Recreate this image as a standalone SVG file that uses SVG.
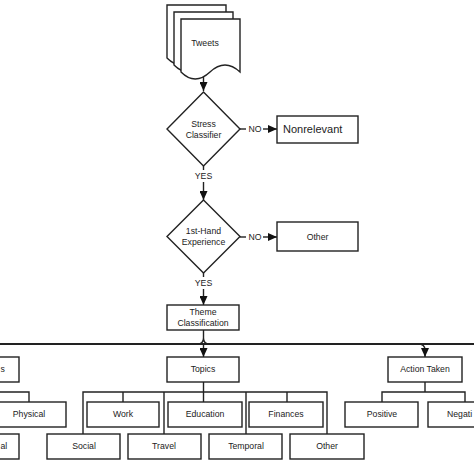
<svg xmlns="http://www.w3.org/2000/svg" width="474" height="474" viewBox="0 0 474 474">
<style>
.b{fill:#fff;stroke:#222;stroke-width:1.4}
.c{fill:none;stroke:#222;stroke-width:1.4}
.t{font-family:"Liberation Sans",Arial,sans-serif;font-size:8.7px;fill:#222;text-anchor:middle}
.big{font-size:11px;text-anchor:start}
</style>
<defs>
<marker id="a" viewBox="0 0 9 8" refX="9" refY="4" markerWidth="9" markerHeight="8" markerUnits="userSpaceOnUse" orient="auto"><path d="M0,0 L9,4 L0,8 z" fill="#111"/></marker>
<path id="doc" d="M0,0 H59 V53 Q44,39 29,53 Q14,67 0,53 Z"/>
</defs>
<rect width="474" height="474" fill="#fff"/>

<g id="connectors">
<path class="c" d="M203.5,77 V91" marker-end="url(#a)"/>
<path class="c" d="M203.5,166 V170"/>
<text class="t" x="203.5" y="179">YES</text>
<path class="c" d="M203.5,182 V200" marker-end="url(#a)"/>
<path class="c" d="M240,129 H246"/>
<text class="t" x="255" y="132">NO</text>
<path class="c" d="M263,129 H277" marker-end="url(#a)"/>
<path class="c" d="M203.5,272 V277"/>
<text class="t" x="203.5" y="286">YES</text>
<path class="c" d="M203.5,289 V305" marker-end="url(#a)"/>
<path class="c" d="M240,237 H246"/>
<text class="t" x="255" y="240">NO</text>
<path class="c" d="M263,237 H277" marker-end="url(#a)"/>
<path class="c" d="M0,344 H474" style="stroke-width:1.8"/>
<path class="c" d="M203.5,330 V338 Q203.5,344 197.5,344 M203.5,338 Q203.5,344 209.5,344"/>
<path class="c" d="M203.5,344 V357" marker-end="url(#a)"/>
<path class="c" d="M418,344 Q425,344 425,350 V357" marker-end="url(#a)"/>
<path class="c" d="M0,392 H29 V402"/>
<path class="c" d="M203.5,382 V402 M83,434 V392 H327 V434 M123,392 V402 M164,392 V434 M246,392 V434 M287,392 V402"/>
<path class="c" d="M425,382 V392 M382,402 V392 H465 V402"/>
</g>

<g id="tweets">
<use href="#doc" class="b" x="167" y="5"/>
<use href="#doc" class="b" x="174" y="12"/>
<use href="#doc" class="b" x="181" y="19"/>
<text class="t" x="205" y="46">Tweets</text>
</g>

<g id="stress">
<path class="b" d="M203.5,92 L240,129 L203.5,166 L167,129 Z"/>
<text class="t" x="203.5" y="127">Stress</text>
<text class="t" x="203.5" y="138">Classifier</text>
</g>

<g id="nonrelevant">
<rect class="b" x="277" y="116" width="81" height="27"/>
<text class="t big" x="283" y="133">Nonrelevant</text>
</g>

<g id="firsthand">
<path class="b" d="M203.5,200 L240,236.5 L203.5,273 L167,236.5 Z"/>
<text class="t" x="203.5" y="234">1st-Hand</text>
<text class="t" x="203.5" y="245">Experience</text>
</g>

<g id="other1">
<rect class="b" x="277" y="222" width="81" height="29"/>
<text class="t" x="317.5" y="240">Other</text>
</g>

<g id="theme">
<rect class="b" x="167" y="305" width="72" height="25"/>
<text class="t" x="203" y="315">Theme</text>
<text class="t" x="203" y="326">Classification</text>
</g>

<g id="leftcat">
<rect class="b" x="-52" y="357" width="71" height="25"/>
<text class="t" x="0.5" y="372" style="text-anchor:start">s</text>
</g>

<g id="topics">
<rect class="b" x="167" y="357" width="72" height="25"/>
<text class="t" x="203" y="372">Topics</text>
</g>

<g id="action">
<rect class="b" x="388" y="357" width="74" height="25"/>
<text class="t" x="425" y="372">Action Taken</text>
</g>

<g id="physical">
<rect class="b" x="-8" y="402" width="74" height="25"/>
<text class="t" x="29" y="417">Physical</text>
</g>

<g id="leftbottom">
<rect class="b" x="-54" y="434" width="73" height="25"/>
<text class="t" x="0.5" y="449" style="text-anchor:start">al</text>
</g>

<g id="work">
<rect class="b" x="87" y="402" width="72" height="25"/>
<text class="t" x="123" y="417">Work</text>
</g>

<g id="education">
<rect class="b" x="168" y="402" width="74" height="25"/>
<text class="t" x="205" y="417">Education</text>
</g>

<g id="finances">
<rect class="b" x="249" y="402" width="74" height="25"/>
<text class="t" x="286" y="417">Finances</text>
</g>

<g id="social">
<rect class="b" x="47" y="434" width="73" height="25"/>
<text class="t" x="84" y="449">Social</text>
</g>

<g id="travel">
<rect class="b" x="128" y="434" width="73" height="25"/>
<text class="t" x="164" y="449">Travel</text>
</g>

<g id="temporal">
<rect class="b" x="209" y="434" width="73" height="25"/>
<text class="t" x="246" y="449">Temporal</text>
</g>

<g id="other2">
<rect class="b" x="290" y="434" width="74" height="25"/>
<text class="t" x="327" y="449">Other</text>
</g>

<g id="positive">
<rect class="b" x="345" y="402" width="73" height="25"/>
<text class="t" x="382" y="417">Positive</text>
</g>

<g id="negative">
<rect class="b" x="428" y="402" width="74" height="25"/>
<text class="t" x="447" y="417" style="text-anchor:start">Negati</text>
</g>
</svg>
